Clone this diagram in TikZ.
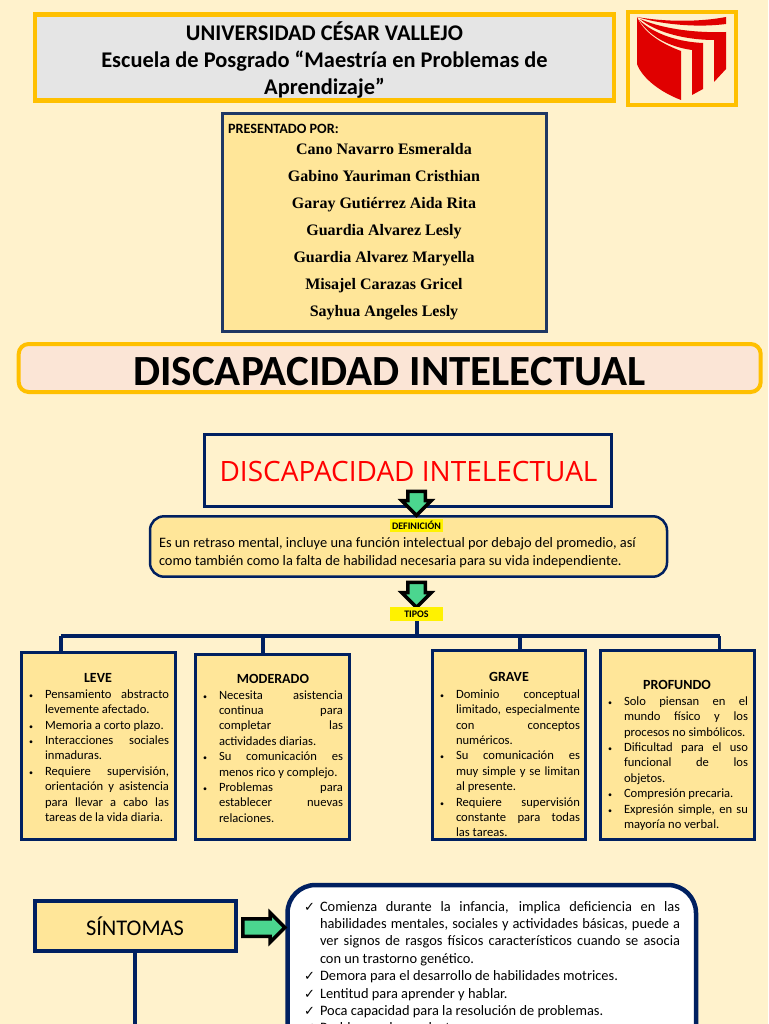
\documentclass[tikz,border=0pt]{standalone}
\usepackage{fontspec}
\setmainfont{Carlito}
\newfontfamily\namefont{Liberation Serif}
\newfontfamily\redfont{Open Sans}
\newfontfamily\symfont{DejaVu Sans}
\usetikzlibrary{shapes.arrows}

\definecolor{pagebg}{HTML}{FFF2CC}
\definecolor{gold}{HTML}{FFC000}
\definecolor{navy}{HTML}{002060}
\definecolor{darkblue}{HTML}{1F3864}
\definecolor{sand}{HTML}{FFE699}
\definecolor{peach}{HTML}{FBE5D6}
\definecolor{mint}{HTML}{4BD68F}
\definecolor{shieldred}{HTML}{E00000}

% one line of a box: spread to the text width, or left as it is
\newlength{\linew}
\newlength{\linei}
\newcommand{\bulletm}{{\fontsize{8}{8}\selectfont\textbullet}}
\newcommand{\lj}[1]{\hspace*{\linei}\makebox[\linew][s]{#1}\\}
\newcommand{\lf}[1]{\hspace*{\linei}\makebox[\linew][l]{#1}\\}
\newcommand{\bj}[1]{\makebox[\linei][l]{\bulletm}\makebox[\linew][s]{#1}\\}
\newcommand{\bk}[1]{\makebox[\linei][l]{\bulletm}\makebox[\linew][l]{#1}\\}

\begin{document}
\begin{tikzpicture}[
  x=1pt, y=-1pt,
  every node/.style={inner sep=0pt, outer sep=0pt, font=\fontsize{12.6}{15.4}\selectfont},
  goldbox/.style={draw=gold, line width=4.5pt},
  typebox/.style={draw=navy, line width=3pt, fill=sand},
  typetitle/.style={font=\fontsize{14}{16}\selectfont\bfseries},
  bar/.style={draw=navy, line width=3.5pt},
  greenarrow/.style={single arrow, draw=black, line width=3.5pt, fill=mint, inner ysep=7pt,
    single arrow head extend=6pt, single arrow tip angle=90},
  hilite/.style={fill=yellow, font=\fontsize{10}{12}\selectfont\bfseries}
]
\useasboundingbox (0,0) rectangle (768,1024);
\clip (0,0) rectangle (768,1024);
\fill[pagebg] (0,0) rectangle (768,1024);

% header
\node[goldbox, fill=black!10, minimum width=579pt, minimum height=86pt, anchor=north west] (uni) at (35,14.5) {};
\node[font=\fontsize{22.4}{27.2}\selectfont\bfseries, align=center] (unitext) at (324.5,60)
  {UNIVERSIDAD CÉSAR VALLEJO\\Escuela de Posgrado “Maestría en Problemas de\\Aprendizaje”};
\node[goldbox, line width=4pt, minimum width=108pt, minimum height=93pt, anchor=north west] (logo) at (628,12) {};
\fill[shieldred] (637,17) .. controls (665,22) and (700,22) .. (726,17) -- (726,24)
  .. controls (695,28) and (660,24) .. (637,17) -- cycle;
\fill[shieldred] (640,19) .. controls (665,30) and (700,33) .. (726,32) -- (726,69) -- (714,82) -- (714,40)
  .. controls (685,40) and (655,32) .. (640,19) -- cycle;
\fill[shieldred] (639,20) .. controls (655,35) and (680,42) .. (703,43) -- (703,89) -- (692,95) -- (692,50)
  .. controls (670,47) and (650,37) .. (639,20) -- cycle;
\fill[shieldred] (637,17) -- (637,64) .. controls (642,78) and (660,92) .. (681,100) -- (681,51)
  .. controls (665,45) and (645,35) .. (637,17) -- cycle;

% presentado por
\node[draw=darkblue, fill=sand, line width=3.5pt, minimum width=324pt, minimum height=217.6pt, anchor=north west] (autores) at (222.3,113.7) {};
\node[font=\fontsize{14.2}{15}\selectfont\bfseries, anchor=west] (presentado) at (228,129) {PRESENTADO POR:};
\foreach \autor/\ypos in {Cano Navarro Esmeralda/151.5, Gabino Yauriman Cristhian/178.4,
  Garay Gutiérrez Aida Rita/205.3, Guardia Alvarez Lesly/232.2, Guardia Alvarez Maryella/259.1,
  Misajel Carazas Gricel/286, Sayhua Angeles Lesly/312.9}
  \node[font=\fontsize{16}{18}\selectfont\namefont\bfseries, text height=10.5pt, text depth=3.5pt] at (384,\ypos) {\autor};

% titulo
\node[goldbox, fill=peach, rounded corners=10pt, line width=4pt, minimum width=742pt, minimum height=48pt, anchor=north west] (titulo) at (18.7,344) {};
\node[font=\fontsize{43}{46}\selectfont\bfseries] (titulotext) at (389.5,372) {DISCAPACIDAD INTELECTUAL};

% discapacidad
\node[draw=navy, line width=3pt, minimum width=407pt, minimum height=72pt, anchor=north west] (discap) at (204.5,434.5) {};
\node[font=\fontsize{28}{30}\selectfont\redfont, text=red] (discaptext) at (408.5,471) {DISCAPACIDAD INTELECTUAL};

\node[draw=navy, fill=sand, line width=2.5pt, rounded corners=14pt, minimum width=517pt, minimum height=60.4pt, anchor=north west] (defin) at (150,516.3) {};
\node[greenarrow, rotate=-90, minimum width=26pt, minimum height=24pt] (flecha1) at (416.5,499) {};
\node[hilite, minimum width=53pt, minimum height=13pt] (deflabel) at (416.5,525.5) {DEFINICIÓN};
\node[font=\fontsize{14.4}{18}\selectfont, align=left, anchor=west] (deftext) at (159,552.5)
  {Es un retraso mental, incluye una función intelectual por debajo del promedio, así\\como también como la falta de habilidad necesaria para su vida independiente.};
\node[greenarrow, rotate=-90, minimum width=26pt, minimum height=25pt] (flecha2) at (416.5,590.5) {};
\node[hilite, minimum width=53pt, minimum height=14pt] (tipos) at (416.5,614) {TIPOS};

% tipos
\node[typebox, minimum width=154pt, minimum height=187pt, anchor=north west] (leve) at (21.5,652.5) {};
\node[typebox, minimum width=154pt, minimum height=185pt, anchor=north west] (moderado) at (195.5,654.5) {};
\node[typebox, minimum width=153pt, minimum height=189pt, anchor=north west] (grave) at (432.5,650.5) {};
\node[typebox, minimum width=154pt, minimum height=189pt, anchor=north west] (profundo) at (600.5,650.5) {};

\coordinate (barizq) at (61,636);
\coordinate (barmod) at (263,636);
\coordinate (barcen) at (416.5,636);
\coordinate (bargra) at (520,636);
\coordinate (barder) at (719.5,636);
\draw[bar] (barizq) -- (barder);
\draw[navy, line width=4pt] (tipos) -- (barcen);
\draw[bar] (barizq) -- (barizq |- leve.north);
\draw[bar] (barmod) -- (barmod |- moderado.north);
\draw[bar] (bargra) -- (bargra |- grave.north);
\draw[bar] (barder) -- (barder |- profundo.north);

\setlength{\linew}{124pt}
\setlength{\linei}{16pt}
\node[typetitle] (levetit) at (98,678) {LEVE};
\node[anchor=north west, align=left] (levetext) at (29,689.5) {%
  \bj{Pensamiento abstracto}\lf{levemente afectado.}\bk{Memoria a corto plazo.}%
  \bj{Interacciones sociales}\lf{inmaduras.}\bj{Requiere supervisión,}%
  \lj{orientación y asistencia}\lj{para llevar a cabo las}\lf{tareas de la vida diaria.}};
\node[typetitle] (modtit) at (273,679) {MODERADO};
\node[anchor=north west, align=left] (modtext) at (203,690.5) {%
  \bj{Necesita asistencia}\lj{continua para}\lj{completar las}\lf{actividades diarias.}%
  \bj{Su comunicación es}\lf{menos rico y complejo.}\bj{Problemas para}%
  \lj{establecer nuevas}\lf{relaciones.}};
\node[typetitle] (gratit) at (509,677) {GRAVE};
\node[anchor=north west, align=left] (gratext) at (440,689.5) {%
  \bj{Dominio conceptual}\lj{limitado, especialmente}\lj{con conceptos}\lf{numéricos.}%
  \bj{Su comunicación es}\lj{muy simple y se limitan}\lf{al presente.}\bj{Requiere supervisión}%
  \lj{constante para todas}\lf{las tareas.}};
\node[typetitle] (protit) at (677,685) {PROFUNDO};
\node[anchor=north west, align=left] (protext) at (608,696.5) {%
  \bj{Solo piensan en el}\lj{mundo físico y los}\lf{procesos no simbólicos.}%
  \bj{Dificultad para el uso}\lj{funcional de los}\lf{objetos.}\bk{Compresión precaria.}%
  \bj{Expresión simple, en su}\lf{mayoría no verbal.}};

% sintomas
\node[draw=navy, fill=sand, line width=4pt, minimum width=201pt, minimum height=50pt, anchor=north west, font=\fontsize{22.4}{24}\selectfont] (sintomas) at (34.5,901) {SÍNTOMAS};
\coordinate (sintfin) at (135,1024);
\draw[navy, line width=4pt] (sintomas) -- (sintfin);
\node[draw=navy, fill=white, line width=4.5pt, rounded corners=28pt, minimum width=408.5pt, minimum height=180pt, anchor=north west] (lista) at (287.5,885) {};
\node[greenarrow, minimum width=26pt, minimum height=42pt] (flecha3) at (259.5,927.5) {};

\setlength{\linew}{360pt}
\setlength{\linei}{16pt}
\renewcommand{\bulletm}{{\symfont\fontsize{13}{13}\selectfont ✓}}
\node[anchor=north west, align=left, font=\fontsize{14.4}{17.4}\selectfont] (listatext) at (304,901) {%
  \bj{Comienza durante la infancia, implica deficiencia en las}%
  \lj{habilidades mentales, sociales y actividades básicas, puede a}%
  \lj{ver signos de rasgos físicos característicos cuando se asocia}%
  \lf{con un trastorno genético.}%
  \bk{Demora para el desarrollo de habilidades motrices.}%
  \bk{Lentitud para aprender y hablar.}%
  \bk{Poca capacidad para la resolución de problemas.}%
  \bk{Problemas de conducta.}};
\end{tikzpicture}
\end{document}
